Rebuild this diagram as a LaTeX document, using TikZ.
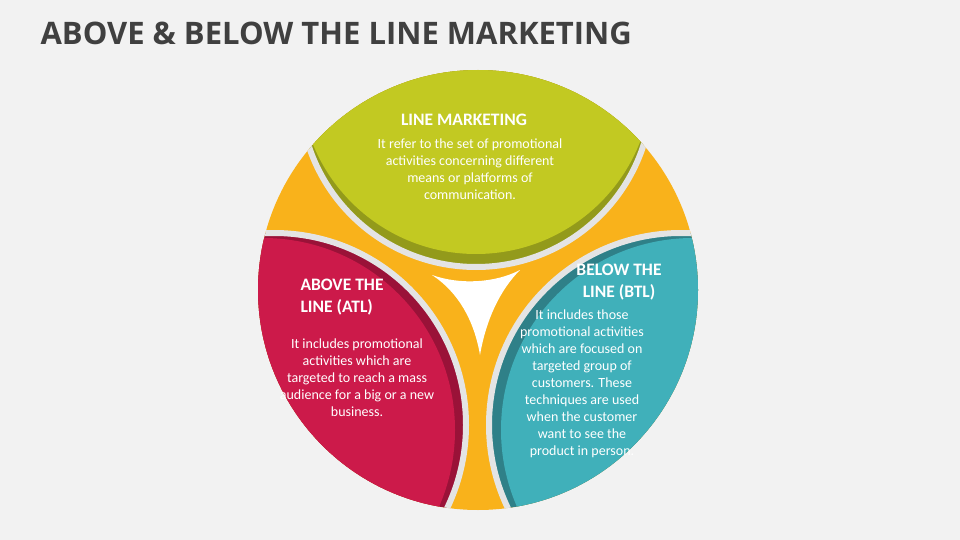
\documentclass[tikz,border=0pt]{standalone}
\usepackage{fontspec}
\setmainfont{Carlito}
\newfontfamily\titlefont{Open Sans}
\definecolor{bg}{HTML}{F2F2F2}
\definecolor{ttl}{HTML}{404040}
\definecolor{org}{HTML}{F9B21B}
\definecolor{edge}{HTML}{E4E4E4}
\definecolor{grn}{HTML}{C2C922}
\definecolor{grnd}{HTML}{939A1B}
\definecolor{rd}{HTML}{CC1A4A}
\definecolor{rdd}{HTML}{9A1238}
\definecolor{tl}{HTML}{40B0BA}
\definecolor{tld}{HTML}{2F8088}
\tikzset{
 head/.style={text=white,font=\bfseries\fontsize{17.5}{22}\selectfont},
 body/.style={text=white,align=center,font=\fontsize{14}{17}\selectfont},
}
\begin{document}
\begin{tikzpicture}[x=1pt,y=-1pt]
\fill[bg] (0,0) rectangle (960,540);
\useasboundingbox (0,0) rectangle (960,540);
\node[anchor=base west,text=ttl,font=\titlefont\bfseries\fontsize{31}{36}\selectfont] (title) at (37,45) {ABOVE \& BELOW THE LINE MARKETING};
\coordinate (C) at (478,290);
\fill[org] (C) circle (220);
\fill[white] (432,275) .. controls (460,285) and (495,283) .. (520,270)
  .. controls (500,290) and (486,320) .. (480,355)
  .. controls (474,320) and (458,292) .. (432,275) -- cycle;
\begin{scope}
\clip (C) circle (220);
% green
\draw[edge,line width=6,fill=grnd] (476,91) circle (176);
\begin{scope}\clip (476,91) circle (176);\fill[grn] (476,78) circle (176);\end{scope}
% red
\draw[edge,line width=6,fill=rdd] (274,425) circle (192);
\begin{scope}\clip (274,425) circle (192);\fill[rd] (263,430) circle (192);\end{scope}
% teal
\draw[edge,line width=6,fill=tld] (681,425) circle (192);
\begin{scope}\clip (681,425) circle (192);\fill[tl] (693,430) circle (192);\end{scope}
\end{scope}
\node[head] (h1) at (464,120) {LINE MARKETING};
\node[body] (b1) at (470,169) {It refer to the set of promotional\\activities concerning different\\means or platforms of\\communication.};
\node[head,align=left,anchor=north west] (h2) at (297,275) {ABOVE THE\\LINE (ATL)};
\node[body] (b2) at (357,378) {It includes promotional\\activities which are\\targeted to reach a mass\\audience for a big or a new\\business.};
\node[head,align=center] (h3) at (619,282) {BELOW THE\\LINE (BTL)};
\node[body] (b3) at (582,384) {It includes those\\promotional activities\\which are focused on\\targeted group of\\customers. These\\techniques are used\\when the customer\\want to see the\\product in person.};
\end{tikzpicture}
\end{document}
